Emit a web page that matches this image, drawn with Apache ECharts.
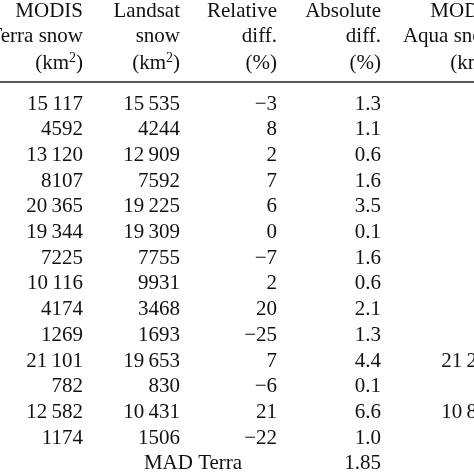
<!DOCTYPE html>
<html><head><meta charset="utf-8">
<script src="https://cdn.jsdelivr.net/npm/echarts@6/dist/echarts.min.js"></script>
<style>html,body{margin:0;padding:0;background:#fff}#c{width:474px;height:474px}</style>
</head><body><div id="c"></div>
<script>
const terraSnow = ['15\u2009117','4592','13\u2009120','8107','20\u2009365','19\u2009344','7225','10\u2009116','4174','1269','21\u2009101','782','12\u2009582','1174'];
const landsatSnow = ['15\u2009535','4244','12\u2009909','7592','19\u2009225','19\u2009309','7755','9931','3468','1693','19\u2009653','830','10\u2009431','1506'];
const relDiff = ['\u22123','8','2','7','6','0','\u22127','2','20','\u221225','7','\u22126','21','\u221222'];
const absDiff = ['1.3','1.1','0.6','1.6','3.5','0.1','1.6','0.6','2.1','1.3','4.4','0.1','6.6','1.0'];
const aquaSnow = ['','','','','','','','','','','21\u2009210','','10\u2009806',''];
const headers = [
  ['MODIS','Terra snow','(km{s|2})'],
  ['Landsat','snow','(km{s|2})'],
  ['Relative','diff.','(%)'],
  ['Absolute','diff.','(%)'],
  ['MODIS','Aqua snow','(km{s|2})']
];
const madLabel = 'MAD Terra';
const madValue = '1.85';

// layout
const colRight = [83, 180, 277, 381, 498];
const headerY = [11, 36, 63];
const rowY0 = 104, rowStep = 25.7;

const cells = [];
headers.forEach((h, c) => h.forEach((t, r) => cells.push([colRight[c], headerY[r], t])));
const cols = [terraSnow, landsatSnow, relDiff, absDiff, aquaSnow];
cols.forEach((arr, c) => arr.forEach((t, i) => { if (t) cells.push([colRight[c], rowY0 + i * rowStep, t]); }));
const madY = rowY0 + 14 * rowStep;
cells.push([colRight[3], madY, madValue]);

const chart = echarts.init(document.getElementById('c'));
const font = '"Liberation Serif", "DejaVu Serif", serif';
chart.setOption({
  animation: false,
  grid: {left: 0, right: 0, top: 0, bottom: 0},
  xAxis: {type: 'value', min: 0, max: 474, show: false},
  yAxis: {type: 'value', min: 0, max: 474, inverse: true, show: false},
  series: [{
    type: 'custom',
    clip: true,
    data: cells,
    renderItem: (params, api) => {
      const p = api.coord([api.value(0), api.value(1)]);
      return {type: 'text', x: p[0], y: p[1], style: {
        text: cells[params.dataIndex][2], align: 'right', verticalAlign: 'middle',
        font: '21px ' + font, fill: '#111',
        rich: {s: {fontSize: 14, verticalAlign: 'top', padding: [0,0,9,0], fontFamily: font, fill: '#111'}}
      }};
    }
  }, {
    type: 'custom',
    data: [[193, madY]],
    renderItem: (params, api) => {
      const p = api.coord([api.value(0), api.value(1)]);
      return {type: 'text', x: p[0], y: p[1], style: {text: madLabel, align: 'center', verticalAlign: 'middle', font: '21px ' + font, fill: '#111'}};
    }
  }, {
    type: 'custom',
    data: [[0, 82, 474]],
    renderItem: (params, api) => {
      const a = api.coord([api.value(0), api.value(1)]);
      const b = api.coord([api.value(2), api.value(1)]);
      return {type: 'line', shape: {x1: a[0], y1: a[1], x2: b[0], y2: b[1]}, style: {stroke: '#222', lineWidth: 1.5}};
    }
  }]
});
</script></body></html>
